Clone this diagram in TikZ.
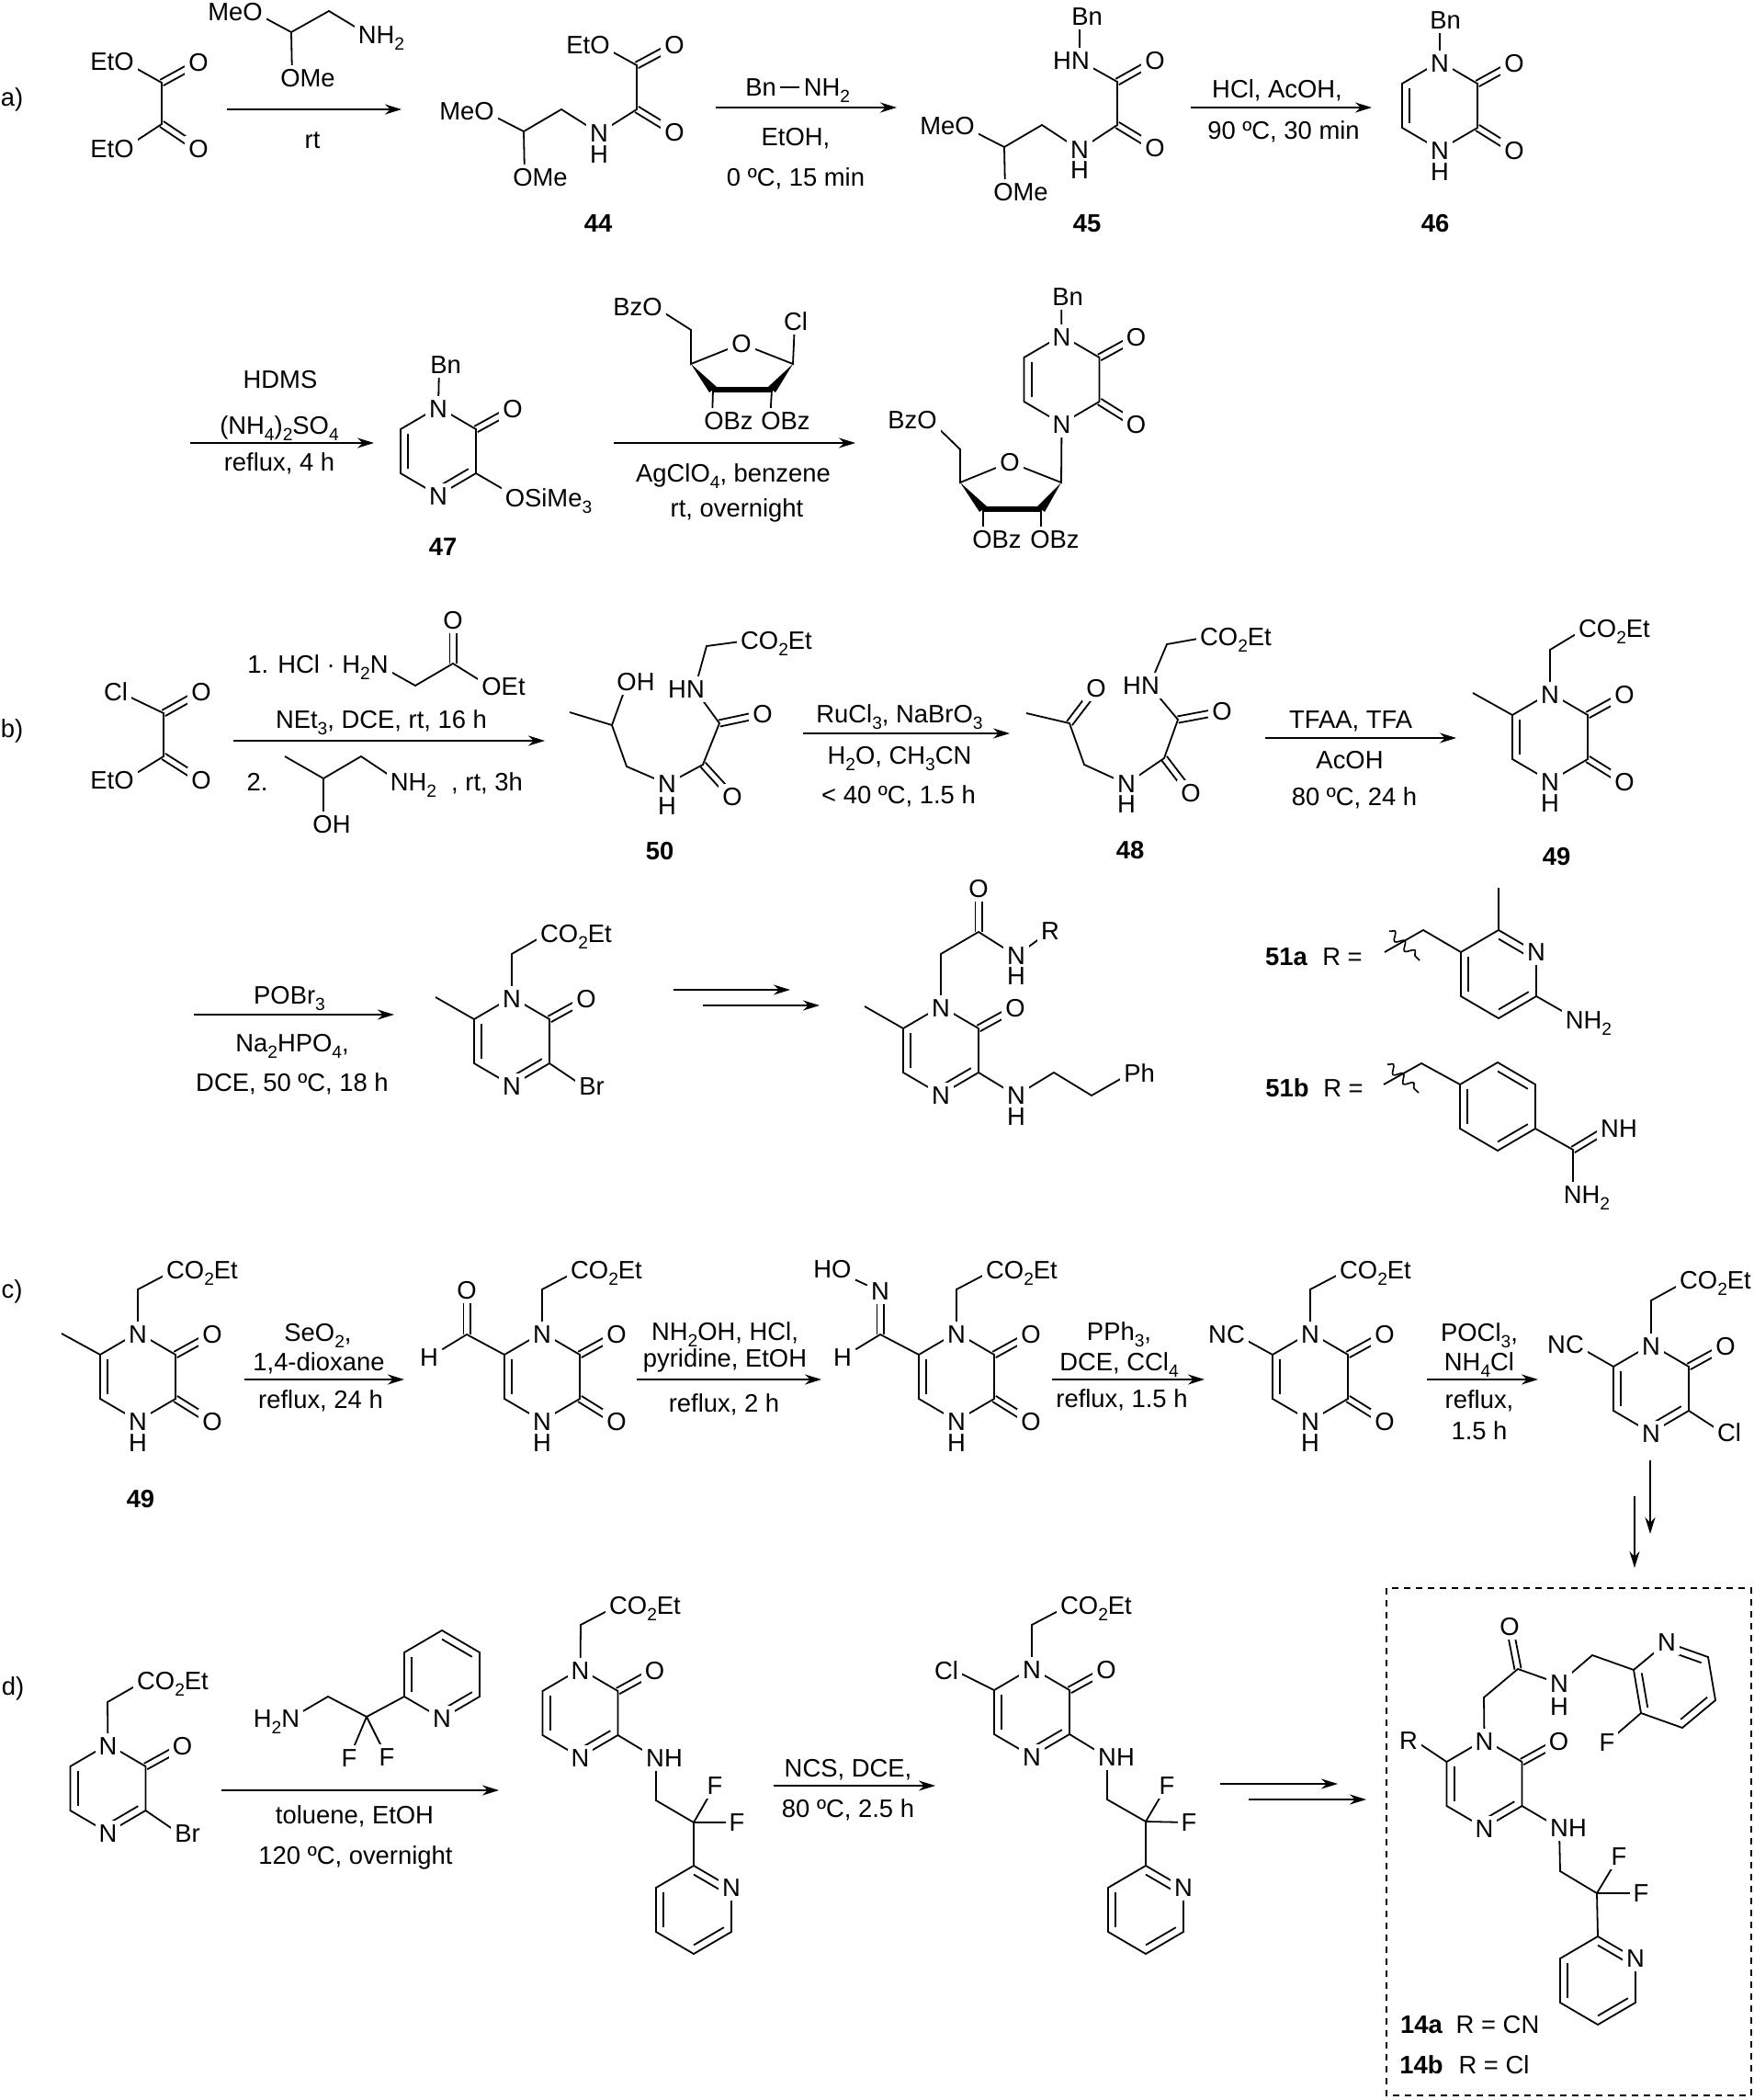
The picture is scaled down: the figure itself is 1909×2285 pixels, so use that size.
\documentclass[tikz,border=0pt]{standalone}
\usepackage{fontspec}
\setmainfont{Liberation Sans}
\usetikzlibrary{arrows.meta,calc,decorations.pathmorphing}

\newcommand{\chemfont}{\fontsize{13.7}{16}\selectfont}
\newcommand{\sbs}[1]{\raisebox{-.24em}{\fontsize{9.6}{10}\selectfont #1}}

\tikzset{
  bond/.style={line width=.9pt},
  boldbond/.style={line width=3pt},
  rxnarrow/.style={line width=1.1pt,-{Stealth[length=9pt,width=5.5pt]}},
  chem/.style={font=\chemfont,text height=9.8pt,text depth=0pt,inner sep=2pt},
  atom/.style={chem,fill=white},
  tag/.style={chem,font=\chemfont\bfseries},
  wavy/.style={line width=.8pt,decorate,decoration={snake,amplitude=2.2pt,segment length=7.5pt}},
  boxline/.style={line width=.8pt,dash pattern=on 3.5pt off 3pt}
}

\newcommand{\pts}[1]{\foreach \n/\x/\y in {#1} {\coordinate (\n) at (\x,\y);}}
\newcommand{\rxn}[4]{\coordinate (#1s) at (#2,#4); \coordinate (#1e) at (#3,#4); \draw[rxnarrow] (#1s) -- (#1e);}
\newcommand{\dbl}[2]{\draw[bond] ($(#1)!1.8pt!90:(#2)$) -- ($(#2)!1.8pt!-90:(#1)$) ($(#1)!1.8pt!-90:(#2)$) -- ($(#2)!1.8pt!90:(#1)$);}
\newcommand{\inbond}[3]{\draw[bond] ($(#3)!.8!(#1)$) -- ($(#3)!.8!(#2)$);}
\newcommand{\wdg}[4]{\fill (#1) -- ($(#2)+(#3,-3)$) -- ($(#2)+(#4,3)$) -- cycle;}
\newcommand{\hexring}[3]{%
  \coordinate (#10) at (#2,#3);
  \coordinate (#11) at (#2,#3-48);
  \coordinate (#12) at (#2+41,#3-24);
  \coordinate (#13) at (#2+41,#3+24);
  \coordinate (#14) at (#2,#3+48);
  \coordinate (#15) at (#2-41,#3+24);
  \coordinate (#16) at (#2-41,#3-24);
  \draw[bond] (#11) -- (#12) -- (#13) -- (#14) -- (#15) -- (#16) -- cycle;
}
\newcommand{\dioneb}[2]{%
  \hexring{r}{#1}{#2}
  \inbond{r5}{r6}{r0}
  \coordinate (o1) at (#1+81,#2-46);
  \coordinate (o2) at (#1+81,#2+49);
  \dbl{r2}{o1} \dbl{r3}{o2}
  \node[atom] (ln1) at (#1,#2-46) {N};
  \node[atom] (ln4) at (#1,#2+49) {N};
  \node[atom] (lo1) at (o1) {O};
  \node[atom] (lo2) at (o2) {O};
}
\newcommand{\dione}[2]{%
  \dioneb{#1}{#2}
  \node[chem] (lh4) at (#1,#2+72) {H};
}
\newcommand{\none}[2]{%
  \hexring{r}{#1}{#2}
  \inbond{r5}{r6}{r0}
  \inbond{r3}{r4}{r0}
  \coordinate (o1) at (#1+81,#2-46);
  \dbl{r2}{o1}
  \node[atom] (ln1) at (#1,#2-46) {N};
  \node[atom] (ln4) at (#1,#2+49) {N};
  \node[atom] (lo1) at (o1) {O};
}
\newcommand{\pyrid}[2]{%
  \hexring{q}{#1}{#2}
  \inbond{q1}{q2}{q0}
  \inbond{q5}{q6}{q0}
  \inbond{q3}{q4}{q0}
}

\begin{document}
\begin{tikzpicture}[x=.5pt,y=-.5pt]
\useasboundingbox (0,0) rectangle (1909,2285);

% a)
\node[chem] (la) at (13,106) {a)};
\begin{scope}[name prefix=ox-]
  \pts{c1/176/90, c2/176/135, o1/216/68, o2/216/162, e1/135/67, e2/135/162}
  \draw[bond] (e1) -- (c1) -- (c2) -- (e2);
  \dbl{c1}{o1} \dbl{c2}{o2}
  \node[atom] (le1) at (122,67) {EtO};
  \node[atom] (le2) at (122,162) {EtO};
  \node[atom] (lo1) at (o1) {O};
  \node[atom] (lo2) at (o2) {O};
\end{scope}
\begin{scope}[name prefix=am-]
  \pts{mo/276/13, ch/317/35, cb/358/12, nh/401/38, om/318/85}
  \draw[bond] (mo) -- (ch) -- (cb) -- (nh) (ch) -- (om);
  \node[atom] (lmo) at (256,13) {MeO};
  \node[atom] (lnh) at (415,38) {NH\sbs{2}};
  \node[atom] (lom) at (335,85) {OMe};
\end{scope}
\rxn{a1}{247}{437}{119}
\node[chem] (a1t) at (340,152) {rt};
\begin{scope}[name prefix=m44-]
  \pts{c1/693/71, c2/693/119, o1/734/49, o2/734/144, eo/653/49, n/652/145, cb/611/119, ch/570/143, mo/527/121, om/571/193}
  \draw[bond] (eo) -- (c1) -- (c2) -- (n) -- (cb) -- (ch) -- (mo) (ch) -- (om);
  \dbl{c1}{o1} \dbl{c2}{o2}
  \node[atom] (leo) at (640,49) {EtO};
  \node[atom] (lo1) at (o1) {O};
  \node[atom] (lo2) at (o2) {O};
  \node[atom] (ln) at (n) {N};
  \node[chem] (lh) at (652,168) {H};
  \node[atom] (lmo) at (508,121) {MeO};
  \node[atom] (lom) at (588,193) {OMe};
  \node[tag] (lab) at (651,243) {44};
\end{scope}
\rxn{a2}{779}{976}{117}
\node[chem] (a2b) at (828,95) {Bn};
\node[chem] (a2n) at (900,95) {NH\sbs{2}};
\draw[bond] (a2b) -- (a2n);
\node[chem] (a2t) at (866,149) {EtOH,};
\node[chem] (a2u) at (866,193) {0 ºC, 15 min};
\begin{scope}[name prefix=m45-]
  \pts{c1/1216/89, c2/1216/136, o1/1257/66, o2/1257/161, n1/1175/66, bn/1175/18, n2/1175/163, cb/1134/136, ch/1093/160, mo/1048/137, om/1094/209}
  \draw[bond] (bn) -- (n1) -- (c1) -- (c2) -- (n2) -- (cb) -- (ch) -- (mo) (ch) -- (om);
  \dbl{c1}{o1} \dbl{c2}{o2}
  \node[atom] (lbn) at (1183,18) {Bn};
  \node[atom] (ln1) at (1166,66) {HN};
  \node[atom] (lo1) at (o1) {O};
  \node[atom] (lo2) at (o2) {O};
  \node[atom] (ln2) at (n2) {N};
  \node[chem] (lh) at (1175,185) {H};
  \node[atom] (lmo) at (1031,137) {MeO};
  \node[atom] (lom) at (1111,209) {OMe};
  \node[tag] (lab) at (1183,243) {45};
\end{scope}
\rxn{a3}{1296}{1493}{117}
\node[chem] (a3t) at (1390,97) {HCl, AcOH,};
\node[chem] (a3u) at (1397,142) {90 ºC, 30 min};
\begin{scope}[name prefix=m46-]
  \pts{bn/1567/22}
  \dione{1567}{115}
  \draw[bond] (bn) -- (ln1);
  \node[atom] (lbn) at (1573,22) {Bn};
  \node[tag] (lab) at (1562,243) {46};
\end{scope}

\rxn{a4}{207}{407}{482}
\node[chem] (a4t) at (305,413) {HDMS};
\node[chem] (a4u) at (304,463) {(NH\sbs{4})\sbs{2}SO\sbs{4}};
\node[chem] (a4v) at (304,503) {reflux, 4 h};
\begin{scope}[name prefix=m47-]
  \pts{bn/478/397, os/561/540}
  \none{477}{491}
  \draw[bond] (r3) -- (os) (bn) -- (ln1);
  \node[atom] (lbn) at (485,397) {Bn};
  \node[atom] (los) at (597,542) {OSiMe\sbs{3}};
  \node[tag] (lab) at (482,595) {47};
\end{scope}
\rxn{a5}{668}{931}{482}
\node[chem] (a5t) at (798,515) {AgClO\sbs{4}, benzene};
\node[chem] (a5u) at (802,553) {rt, overnight};
\begin{scope}[name prefix=su-]
  \pts{bo/713/334, cb/752/359, c4/752/396, o/807/374, c1/863/396, cl/865/350, c3/776/424, c2/840/424, s3/775/458, s2/838/458}
  \draw[bond] (bo) -- (cb) -- (c4) -- (o) -- (c1) -- (cl) (c3) -- (s3) (c2) -- (s2);
  \draw[boldbond] (c3) -- (c2);
  \wdg{c4}{c3}{4}{-4} \wdg{c1}{c2}{-4}{4}
  \node[atom] (lbo) at (694,334) {BzO};
  \node[atom] (lo) at (o) {O};
  \node[atom] (lcl) at (866,350) {Cl};
  \node[atom] (ls3) at (793,458) {OBz};
  \node[atom] (ls2) at (855,458) {OBz};
\end{scope}
\begin{scope}[name prefix=pa-]
  \pts{bn/1155/323, c1/1155/525, o/1099/503, c4/1045/525, cb/1045/489, bo/1012/457, c3/1070/554, c2/1133/554, s3/1070/587, s2/1133/587}
  \dioneb{1155.5}{413}
  \draw[bond] (bn) -- (ln1) (ln4) -- (c1) -- (o) -- (c4) -- (cb) -- (bo) (c3) -- (s3) (c2) -- (s2);
  \draw[boldbond] (c3) -- (c2);
  \wdg{c4}{c3}{4}{-4} \wdg{c1}{c2}{-4}{4}
  \node[atom] (lbn) at (1162,323) {Bn};
  \node[atom] (lo) at (o) {O};
  \node[atom] (lbo) at (993,457) {BzO};
  \node[atom] (ls3) at (1085,587) {OBz};
  \node[atom] (ls2) at (1148,587) {OBz};
\end{scope}

% b)
\node[chem] (lb) at (13,793) {b)};
\begin{scope}[name prefix=cx-]
  \pts{c1/178/776, c2/178/823, o1/219/753, o2/219/849, cl/130/753, eo/136/849}
  \draw[bond] (cl) -- (c1) -- (c2) -- (eo);
  \dbl{c1}{o1} \dbl{c2}{o2}
  \node[atom] (lcl) at (126,753) {Cl};
  \node[atom] (leo) at (122,849) {EtO};
  \node[atom] (lo1) at (o1) {O};
  \node[atom] (lo2) at (o2) {O};
\end{scope}
\rxn{b1}{254}{593}{806}
\begin{scope}[name prefix=gl-]
  \pts{n/411/723, cb/452/746, c/493/722, o/493/675, oe/533/747}
  \draw[bond] (n) -- (cb) -- (c) -- (oe);
  \dbl{c}{o}
  \node[atom] (ln) at (346,723) {1. HCl · H\sbs{2}N};
  \node[atom] (lo) at (o) {O};
  \node[atom] (loe) at (548,747) {OEt};
\end{scope}
\node[chem] (b1t) at (415,783) {NEt\sbs{3}, DCE, rt, 16 h};
\node[chem] (b1u) at (280,851) {2.};
\begin{scope}[name prefix=ap-]
  \pts{me/310/823, ch/352/847, cb/393/823, n/435/851, o/352/897}
  \draw[bond] (me) -- (ch) -- (cb) -- (n) (ch) -- (o);
  \node[atom] (ln) at (450,851) {NH\sbs{2}};
  \node[atom] (lo) at (361,897) {OH};
\end{scope}
\node[chem] (b1v) at (530,851) {, rt, 3h};
\begin{scope}[name prefix=m50-]
  \pts{me/620/775, ch/666/789, oh/683/742, cb/682/834, n2/726/853, c2/765/832, o2/797/867, c1/783/787, o1/830/777, n1/756/750, cc/769/703, ce/814/697}
  \draw[bond] (me) -- (ch) -- (oh) (ch) -- (cb) -- (n2) -- (c2) -- (c1) -- (n1) -- (cc) -- (ce);
  \dbl{c1}{o1} \dbl{c2}{o2}
  \node[atom] (loh) at (692,742) {OH};
  \node[atom] (ln2) at (n2) {N};
  \node[chem] (lh) at (726,877) {H};
  \node[atom] (lo1) at (o1) {O};
  \node[atom] (lo2) at (o2) {O};
  \node[atom] (ln1) at (747,750) {HN};
  \node[atom] (lce) at (845,697) {CO\sbs{2}Et};
  \node[tag] (lab) at (718,926) {50};
\end{scope}
\rxn{b2}{874}{1099}{798}
\node[chem] (b2t) at (979,777) {RuCl\sbs{3}, NaBrO\sbs{3}};
\node[chem] (b2u) at (979,822) {H\sbs{2}O, CH\sbs{3}CN};
\node[chem] (b2v) at (978,865) {< 40 ºC, 1.5 h};
\begin{scope}[name prefix=m48-]
  \pts{me/1117/776, c/1164/787, o/1193/749, cb/1180/832, n2/1226/853, c2/1267/825, o2/1296/863, c1/1282/783, o1/1330/774, n1/1251/746, cc/1270/701, ce/1315/693}
  \draw[bond] (me) -- (c) -- (cb) -- (n2) -- (c2) -- (c1) -- (n1) -- (cc) -- (ce);
  \dbl{c}{o} \dbl{c1}{o1} \dbl{c2}{o2}
  \node[atom] (lo) at (o) {O};
  \node[atom] (ln2) at (n2) {N};
  \node[chem] (lh) at (1226,875) {H};
  \node[atom] (lo1) at (o1) {O};
  \node[atom] (lo2) at (o2) {O};
  \node[atom] (ln1) at (1242,746) {HN};
  \node[atom] (lce) at (1345,693) {CO\sbs{2}Et};
  \node[tag] (lab) at (1230,925) {48};
\end{scope}
\rxn{b3}{1377}{1585}{803}
\node[chem] (b3t) at (1470,783) {TFAA, TFA};
\node[chem] (b3u) at (1469,827) {AcOH};
\node[chem] (b3v) at (1474,867) {80 ºC, 24 h};
\begin{scope}[name prefix=m49-]
  \pts{me/1603/754, cc/1687/707, ce/1725/684}
  \dione{1687}{802}
  \draw[bond] (r6) -- (me) (ln1) -- (cc) -- (ce);
  \node[atom] (lce) at (1757,684) {CO\sbs{2}Et};
  \node[tag] (lab) at (1694,932) {49};
\end{scope}

\rxn{b4}{211}{429}{1104}
\node[chem] (b4t) at (315,1083) {POBr\sbs{3}};
\node[chem] (b4u) at (318,1135) {Na\sbs{2}HPO\sbs{4},};
\node[chem] (b4v) at (318,1178) {DCE, 50 ºC, 18 h};
\begin{scope}[name prefix=br-]
  \pts{me/474/1085, cc/557/1038, ce/595/1016, br/635/1182}
  \none{557}{1133}
  \draw[bond] (r6) -- (me) (ln1) -- (cc) -- (ce) (r3) -- (br);
  \node[atom] (lce) at (627,1016) {CO\sbs{2}Et};
  \node[atom] (lbr) at (644,1182) {Br};
\end{scope}
\rxn{b5}{733}{860}{1077}
\rxn{b6}{765}{892}{1094}
\begin{scope}[name prefix=pb-]
  \pts{me/941/1095, cc/1024/1038, c/1065/1014, o/1065/967, n/1106/1040, r/1143/1013, n3/1106/1192, ca/1147/1167, cb/1188/1192, ph/1230/1168}
  \none{1024}{1143}
  \dbl{c}{o}
  \draw[bond] (r6) -- (me) (ln1) -- (cc) -- (c) -- (n) -- (r) (r3) -- (n3) -- (ca) -- (cb) -- (ph);
  \node[atom] (lo) at (o) {O};
  \node[atom] (ln) at (n) {N};
  \node[chem] (lh) at (1106,1062) {H};
  \node[atom] (lr) at (r) {R};
  \node[atom] (ln3) at (n3) {N};
  \node[chem] (lh3) at (1106,1215) {H};
  \node[atom] (lph) at (1240,1168) {Ph};
\end{scope}

\begin{scope}[name prefix=ra-]
  \pts{w1/1507/1036, w2/1549/1012, v1/1512/1013, v2/1545/1045, me/1631/966, nh/1714/1108}
  \pyrid{1631}{1060}
  \draw[bond] (w1) -- (w2) -- (q6) (q1) -- (me) (q3) -- (nh);
  \draw[wavy] (v1) -- (v2);
  \node[atom] (ln) at (q2) {N};
  \node[atom] (lnh) at (1729,1110) {NH\sbs{2}};
  \node[tag] (lab) at (1400,1041) {51a};
  \node[chem] (lr) at (1461,1041) {R =};
\end{scope}
\begin{scope}[name prefix=rb-]
  \pts{w1/1506/1180, w2/1547/1157, v1/1510/1158, v2/1544/1189, c/1712/1251, n1/1750/1228, n2/1712/1300}
  \pyrid{1630}{1204}
  \draw[bond] (w1) -- (w2) -- (q6) (q3) -- (c) -- (n2);
  \dbl{c}{n1}
  \draw[wavy] (v1) -- (v2);
  \node[atom] (ln1) at (1762,1228) {NH};
  \node[atom] (ln2) at (1727,1300) {NH\sbs{2}};
  \node[tag] (lab) at (1401,1184) {51b};
  \node[chem] (lr) at (1462,1184) {R =};
\end{scope}

% c)
\node[chem] (lc) at (13,1403) {c)};
\begin{scope}[name prefix=c49-]
  \pts{me/67/1451, cc/150/1403, ce/190/1382}
  \dione{150}{1498}
  \draw[bond] (r6) -- (me) (ln1) -- (cc) -- (ce);
  \node[atom] (lce) at (220,1382) {CO\sbs{2}Et};
  \node[tag] (lab) at (153,1631) {49};
\end{scope}
\rxn{c1}{266}{440}{1501}
\node[chem] (c1t) at (346,1450) {SeO\sbs{2},};
\node[chem] (c1u) at (347,1482) {1,4-dioxane};
\node[chem] (c1v) at (349,1523) {reflux, 24 h};
\begin{scope}[name prefix=cho-]
  \pts{cc/590/1403, ce/630/1382, c/508/1452, o/508/1404}
  \dione{590}{1498}
  \dbl{c}{o}
  \node[atom] (lo) at (o) {O};
  \node[atom] (lhc) at (467,1477) {H};
  \draw[bond] (r6) -- (c) -- (lhc) (ln1) -- (cc) -- (ce);
  \node[atom] (lce) at (660,1382) {CO\sbs{2}Et};
\end{scope}
\rxn{c2}{693}{894}{1501}
\node[chem] (c2t) at (789,1449) {NH\sbs{2}OH, HCl,};
\node[chem] (c2u) at (789,1478) {pyridine, EtOH};
\node[chem] (c2v) at (788,1527) {reflux, 2 h};
\begin{scope}[name prefix=oxm-]
  \pts{cc/1041/1403, ce/1081/1382, c/958/1452, n/958/1405}
  \dione{1041}{1498}
  \dbl{c}{n}
  \node[atom] (ln) at (n) {N};
  \node[atom] (lho) at (906,1381) {HO};
  \node[atom] (lhc) at (917,1477) {H};
  \draw[bond] (r6) -- (c) -- (lhc) (lho) -- (ln) (ln1) -- (cc) -- (ce);
  \node[atom] (lce) at (1112,1382) {CO\sbs{2}Et};
\end{scope}
\rxn{c3}{1145}{1311}{1501}
\node[chem] (c3t) at (1218,1449) {PPh\sbs{3},};
\node[chem] (c3u) at (1218,1482) {DCE, CCl\sbs{4}};
\node[chem] (c3v) at (1221,1522) {reflux, 1.5 h};
\begin{scope}[name prefix=cn-]
  \pts{cc/1426/1403, ce/1466/1382, nc/1345/1452}
  \dione{1426}{1498}
  \draw[bond] (r6) -- (nc) (ln1) -- (cc) -- (ce);
  \node[atom] (lnc) at (1335,1452) {NC};
  \node[atom] (lce) at (1497,1382) {CO\sbs{2}Et};
\end{scope}
\rxn{c4}{1553}{1674}{1501}
\node[chem] (c4t) at (1610,1450) {POCl\sbs{3},};
\node[chem] (c4u) at (1610,1482) {NH\sbs{4}Cl};
\node[chem] (c4v) at (1610,1523) {reflux,};
\node[chem] (c4w) at (1610,1557) {1.5 h};
\begin{scope}[name prefix=ccl-]
  \pts{cc/1797/1415, ce/1837/1393, nc/1714/1463, cl/1875/1559}
  \none{1797}{1511}
  \draw[bond] (r6) -- (nc) (ln1) -- (cc) -- (ce) (r3) -- (cl);
  \node[atom] (lnc) at (1704,1463) {NC};
  \node[atom] (lce) at (1867,1393) {CO\sbs{2}Et};
  \node[atom] (lcl) at (1882,1559) {Cl};
\end{scope}
\coordinate (v1s) at (1796,1589);
\coordinate (v1e) at (1796,1669);
\coordinate (v2s) at (1779,1628);
\coordinate (v2e) at (1779,1706);
\draw[rxnarrow] (v1s) -- (v1e);
\draw[rxnarrow] (v2s) -- (v2e);

% d)
\node[chem] (ld) at (14,1835) {d)};
\begin{scope}[name prefix=d1-]
  \pts{cc/117/1852, ce/157/1829, br/195/1995}
  \none{117.5}{1946}
  \draw[bond] (ln1) -- (cc) -- (ce) (r3) -- (br);
  \node[atom] (lce) at (188,1829) {CO\sbs{2}Et};
  \node[atom] (lbr) at (204,1995) {Br};
\end{scope}
\begin{scope}[name prefix=dp-]
  \pts{n/316/1870, cb/357/1846, cf/399/1868, f1/380/1913, f2/421/1912}
  \pyrid{481}{1822}
  \draw[bond] (n) -- (cb) -- (cf) -- (f1) (cf) -- (f2) (cf) -- (q5);
  \node[atom] (ln) at (301,1870) {H\sbs{2}N};
  \node[atom] (lf1) at (f1) {F};
  \node[atom] (lf2) at (f2) {F};
  \node[atom] (lnq) at (q4) {N};
\end{scope}
\rxn{d1}{241}{543}{1948}
\node[chem] (d1t) at (386,1975) {toluene, EtOH};
\node[chem] (d1u) at (387,2019) {120 ºC, overnight};
\begin{scope}[name prefix=d2-]
  \pts{cc/632/1768, ce/672/1747, n/714/1913, cb/714/1959, cf/755/1983, f1/778/1943, f2/802/1983}
  \none{631.5}{1864}
  \pyrid{755}{2078}
  \draw[bond] (ln1) -- (cc) -- (ce) (r3) -- (n) -- (cb) -- (cf) -- (f1) (cf) -- (f2) (cf) -- (q1);
  \node[atom] (lce) at (702,1747) {CO\sbs{2}Et};
  \node[atom] (ln) at (723,1913) {NH};
  \node[atom] (lf1) at (f1) {F};
  \node[atom] (lf2) at (f2) {F};
  \node[atom] (lnq) at (q2) {N};
\end{scope}
\rxn{d2}{842}{1018}{1943}
\node[chem] (d2t) at (923,1924) {NCS, DCE,};
\node[chem] (d2u) at (923,1968) {80 ºC, 2.5 h};
\begin{scope}[name prefix=d3-]
  \pts{cc/1123/1768, ce/1163/1747, cl/1040/1818, n/1205/1912, cb/1205/1958, cf/1247/1982, f1/1270/1943, f2/1294/1983}
  \none{1123}{1863}
  \pyrid{1247}{2078}
  \draw[bond] (r6) -- (cl) (ln1) -- (cc) -- (ce) (r3) -- (n) -- (cb) -- (cf) -- (f1) (cf) -- (f2) (cf) -- (q1);
  \node[atom] (lcl) at (1030,1818) {Cl};
  \node[atom] (lce) at (1193,1747) {CO\sbs{2}Et};
  \node[atom] (ln) at (1215,1912) {NH};
  \node[atom] (lf1) at (f1) {F};
  \node[atom] (lf2) at (f2) {F};
  \node[atom] (lnq) at (q2) {N};
\end{scope}
\rxn{d3}{1328}{1456}{1941}
\rxn{d4}{1359}{1487}{1958}

\coordinate (boxa) at (1509,1728);
\coordinate (boxb) at (1906,2280);
\draw[boxline] (boxa) rectangle (boxb);
\begin{scope}[name prefix=f-]
  \pts{cc/1615/1847, c/1652/1816, o/1643/1770, n/1697/1832, cb/1733/1801, rl/1540/1894, nh/1697/1989, ca/1698/2036, cf/1738/2060, f1/1762/2020, f2/1786/2060, p1/1778/1817, p2/1814/1787, p3/1859/1803, p4/1867/1850, p5/1831/1880, p6/1786/1864, p0/1822/1834, f3/1749/1896}
  \none{1615.5}{1941}
  \pyrid{1739}{2155}
  \dbl{c}{o}
  \draw[bond] (p1) -- (p2) -- (p3) -- (p4) -- (p5) -- (p6) -- cycle;
  \inbond{p1}{p6}{p0} \inbond{p2}{p3}{p0} \inbond{p4}{p5}{p0}
  \draw[bond] (r6) -- (rl) (ln1) -- (cc) -- (c) -- (n) -- (cb) -- (p1) (p6) -- (f3);
  \draw[bond] (r3) -- (nh) -- (ca) -- (cf) -- (f1) (cf) -- (f2) (cf) -- (q1);
  \node[atom] (lo) at (o) {O};
  \node[atom] (ln) at (n) {N};
  \node[chem] (lh) at (1697,1857) {H};
  \node[atom] (lr) at (1533,1894) {R};
  \node[atom] (lp2) at (p2) {N};
  \node[atom] (lf3) at (f3) {F};
  \node[atom] (lnh) at (1707,1989) {NH};
  \node[atom] (lf1) at (f1) {F};
  \node[atom] (lf2) at (f2) {F};
  \node[atom] (lnq) at (q2) {N};
  \node[tag] (laa) at (1547,2203) {14a};
  \node[chem] (lra) at (1630,2203) {R = CN};
  \node[tag] (lab) at (1547,2247) {14b};
  \node[chem] (lrb) at (1626,2247) {R = Cl};
\end{scope}
\end{tikzpicture}
\end{document}
